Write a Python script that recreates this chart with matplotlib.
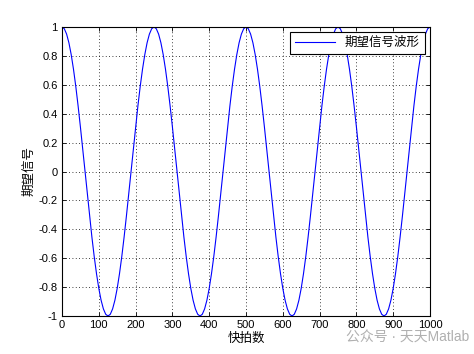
import numpy as np
import matplotlib
matplotlib.use('Agg')
import matplotlib.pyplot as plt

plt.rcParams['font.family'] = ['Liberation Sans', 'Noto Sans CJK SC', 'DejaVu Sans']

# snapshot index (0..1000) and signal amplitude
snapshots = np.linspace(0, 1000, 161)
signal = [
    1.0, 0.988, 0.951, 0.891, 0.809, 0.707, 0.588, 0.454, 0.309, 0.156,
    0.0, -0.156, -0.309, -0.454, -0.588, -0.707, -0.809, -0.891, -0.951, -0.988,
    -1.0, -0.988, -0.951, -0.891, -0.809, -0.707, -0.588, -0.454, -0.309, -0.156,
    0.0, 0.156, 0.309, 0.454, 0.588, 0.707, 0.809, 0.891, 0.951, 0.988,
    1.0, 0.988, 0.951, 0.891, 0.809, 0.707, 0.588, 0.454, 0.309, 0.156,
    0.0, -0.156, -0.309, -0.454, -0.588, -0.707, -0.809, -0.891, -0.951, -0.988,
    -1.0, -0.988, -0.951, -0.891, -0.809, -0.707, -0.588, -0.454, -0.309, -0.156,
    0.0, 0.156, 0.309, 0.454, 0.588, 0.707, 0.809, 0.891, 0.951, 0.988,
    1.0, 0.988, 0.951, 0.891, 0.809, 0.707, 0.588, 0.454, 0.309, 0.156,
    0.0, -0.156, -0.309, -0.454, -0.588, -0.707, -0.809, -0.891, -0.951, -0.988,
    -1.0, -0.988, -0.951, -0.891, -0.809, -0.707, -0.588, -0.454, -0.309, -0.156,
    0.0, 0.156, 0.309, 0.454, 0.588, 0.707, 0.809, 0.891, 0.951, 0.988,
    1.0, 0.988, 0.951, 0.891, 0.809, 0.707, 0.588, 0.454, 0.309, 0.156,
    0.0, -0.156, -0.309, -0.454, -0.588, -0.707, -0.809, -0.891, -0.951, -0.988,
    -1.0, -0.988, -0.951, -0.891, -0.809, -0.707, -0.588, -0.454, -0.309, -0.156,
    0.0, 0.156, 0.309, 0.454, 0.588, 0.707, 0.809, 0.891, 0.951, 0.988,
    1.0,
]
xticks = list(range(0, 1001, 100))
yticks = [-1, -0.8, -0.6, -0.4, -0.2, 0, 0.2, 0.4, 0.6, 0.8, 1]
ytick_labels = ['-1', '-0.8', '-0.6', '-0.4', '-0.2', '0', '0.2', '0.4', '0.6', '0.8', '1']

fig = plt.figure(figsize=(4.74, 3.54), dpi=100)
ax = fig.add_axes([62 / 474, 1 - 316 / 354, (430 - 62) / 474, (316 - 27) / 354])

ax.plot(snapshots, signal, color='#0000ff', linewidth=0.8, label='期望信号波形')

ax.set_xlim(0, 1000)
ax.set_ylim(-1, 1)
ax.set_xticks(xticks)
ax.set_yticks(yticks)
ax.set_yticklabels(ytick_labels)
ax.tick_params(direction='in', length=3, width=0.6, labelsize=8, top=True, right=True, pad=3)
ax.grid(True, color='black', linestyle=(0, (1, 3)), linewidth=0.6)
for s in ax.spines.values():
    s.set_linewidth(0.8)

ax.set_xlabel('快拍数', fontsize=9, labelpad=2)
ax.set_ylabel('期望信号', fontsize=9, labelpad=2)

leg = ax.legend(loc='upper right', fontsize=9, fancybox=False, framealpha=1,
                edgecolor='black', borderpad=0.4, handlelength=3.2,
                borderaxespad=0.4)
leg.get_frame().set_linewidth(0.8)

fig.text(0.99, 0.045, '公众号 · 天天Matlab', ha='right', va='center',
         fontsize=10, color='#b0b0b0')

fig.savefig('out.png', dpi=100)
